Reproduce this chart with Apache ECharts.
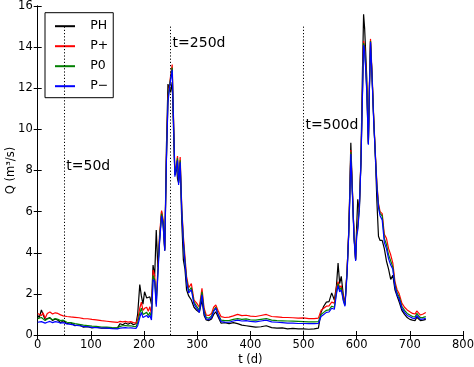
<!DOCTYPE html>
<html>
<head>
<meta charset="utf-8">
<script src="https://cdn.jsdelivr.net/npm/echarts@6/dist/echarts.min.js"></script>
<style>html,body{margin:0;padding:0;background:#fff}#c{width:474px;height:367px}</style>
</head>
<body>
<div id="c"></div>
<script>
const days = [
  0,3,7,10,14,18,23,28,33,38,43,48,55,62,70,78,86,94,102,110,120,130,140,150,155,160,165,170,175,180,185,
  188,192,195,198,201,205,208,211,214,217,220,223,226,229,233,236,239,242,245,247,250,253,256,258,261,263,265,268,271,274,277,
  280,284,289,294,299,304,309,313,317,322,327,331,335,339,345,352,360,368,376,384,392,400,410,420,430,440,450,460,470,480,490,500,510,520,528,
  533,538,543,548,553,558,562,565,568,571,575,578,582,585,587,589,592,595,598,600,602,605,608,611,613,615,617,619,622,624,626,629,632,635,638,641,644,648,652,656,660,664,668,672,676,680,685,690,695,700,705,710,713,716,720,725,730
];
const PH = [
  0.95,0.85,1.22,1.0,0.75,0.8,0.85,0.7,0.78,0.72,0.6,0.7,0.55,0.6,0.45,0.5,0.38,0.4,0.35,0.38,0.33,0.35,0.32,0.35,0.55,0.5,0.58,0.52,0.6,0.5,0.55,
  1.0,2.45,1.9,1.5,2.1,1.8,1.75,1.86,1.5,3.4,2.84,5.1,3.3,4.5,6.0,5.3,4.1,9.0,12.2,12.25,11.8,12.3,9.5,7.8,8.2,7.6,7.4,8.2,5.5,3.65,3.2,
  2.2,1.9,1.7,1.35,1.2,1.1,1.7,0.95,0.73,0.7,0.78,1.0,1.13,0.9,0.57,0.6,0.55,0.6,0.55,0.48,0.45,0.42,0.38,0.4,0.45,0.36,0.33,0.35,0.3,0.32,0.3,0.3,0.28,0.3,0.33,
  1.1,1.4,1.6,1.62,2.05,1.7,2.4,3.5,2.5,2.85,1.9,1.5,3.2,5.0,7.0,9.35,7.0,4.8,3.65,5.3,6.6,6.0,8.5,13.0,15.6,14.9,14.85,12.5,9.3,12.0,14.3,12.5,10.5,8.8,6.5,4.8,4.6,4.6,4.2,3.6,3.2,2.7,2.9,2.2,1.9,1.6,1.2,1.0,0.85,0.76,0.72,0.7,0.86,0.78,0.7,0.72,0.76
];
const Pplus = [
  1.05,1.0,0.95,1.08,0.82,1.05,1.12,1.02,1.08,1.05,0.98,0.93,0.9,0.88,0.86,0.84,0.8,0.79,0.76,0.74,0.7,0.67,0.64,0.61,0.66,0.64,0.66,0.63,0.65,0.6,0.58,
  0.75,1.3,1.6,1.2,1.3,1.35,1.15,1.38,1.0,3.16,2.9,1.7,3.2,4.8,6.05,5.6,4.2,8.5,11.5,12.0,12.6,13.15,10.0,7.9,8.3,8.7,7.5,8.65,6.2,4.8,3.8,
  2.85,2.3,2.5,1.7,1.55,1.35,2.27,1.3,0.97,0.95,1.05,1.35,1.46,1.2,0.89,0.85,0.87,0.93,1.0,0.94,0.96,0.92,0.9,0.95,1.0,0.9,0.88,0.86,0.85,0.84,0.82,0.83,0.8,0.8,0.82,
  1.2,1.3,1.4,1.42,1.6,1.55,2.3,2.6,2.3,2.4,1.8,1.5,3.2,5.0,6.8,9.0,7.0,4.9,3.7,5.0,5.3,6.3,8.5,12.0,14.3,14.0,13.1,12.0,9.4,12.2,14.4,12.7,10.6,8.9,7.4,6.4,6.0,5.9,4.9,4.7,4.2,3.9,3.5,2.6,2.2,2.0,1.55,1.35,1.22,1.13,1.05,1.02,1.17,1.1,0.97,1.02,1.09
];
const P0 = [
  0.8,0.78,0.85,0.78,0.7,0.78,0.82,0.74,0.8,0.76,0.7,0.72,0.62,0.6,0.55,0.52,0.48,0.46,0.43,0.42,0.39,0.38,0.36,0.35,0.42,0.45,0.46,0.44,0.45,0.42,0.4,
  0.6,1.05,1.3,1.0,1.05,1.1,0.95,1.1,0.85,2.9,2.7,1.5,3.0,4.6,5.9,5.5,4.15,8.4,11.4,11.9,12.5,13.0,9.9,7.8,8.2,8.6,7.4,8.5,6.1,4.6,3.6,
  2.7,2.15,2.3,1.6,1.4,1.2,2.1,1.15,0.85,0.82,0.92,1.2,1.35,1.05,0.72,0.7,0.7,0.76,0.8,0.76,0.78,0.74,0.72,0.76,0.8,0.72,0.7,0.69,0.68,0.67,0.66,0.65,0.64,0.64,0.65,
  1.0,1.1,1.2,1.22,1.4,1.35,2.1,2.5,2.2,2.3,1.7,1.45,3.1,4.9,6.7,8.9,6.9,4.8,3.65,4.9,5.2,6.2,8.4,11.9,14.2,13.9,13.0,11.9,9.3,12.1,14.3,12.6,10.5,8.8,7.3,6.3,5.9,5.8,4.7,4.4,3.9,3.6,3.3,2.45,2.05,1.85,1.4,1.2,1.05,0.97,0.9,0.88,1.05,0.95,0.84,0.86,0.89
];
const Pminus = [
  0.62,0.6,0.65,0.62,0.58,0.62,0.66,0.6,0.65,0.63,0.58,0.6,0.54,0.52,0.48,0.45,0.42,0.4,0.37,0.36,0.34,0.33,0.31,0.3,0.33,0.35,0.36,0.34,0.35,0.33,0.32,
  0.45,0.85,1.1,0.85,0.85,0.95,0.85,0.95,0.73,2.7,2.6,1.38,2.9,4.4,5.8,5.4,4.1,8.3,11.3,11.8,12.4,12.9,9.8,7.7,8.1,8.5,7.3,8.4,6.0,4.5,3.5,
  2.6,2.05,2.2,1.5,1.3,1.1,1.95,1.05,0.78,0.75,0.85,1.15,1.3,1.0,0.65,0.63,0.62,0.68,0.72,0.68,0.7,0.66,0.64,0.68,0.72,0.64,0.62,0.6,0.58,0.58,0.56,0.56,0.55,0.55,0.56,
  0.9,1.0,1.1,1.12,1.3,1.25,2.0,2.4,2.1,2.2,1.65,1.4,3.0,4.85,6.6,8.8,6.8,4.7,3.6,4.8,5.1,6.1,8.3,11.8,14.1,13.8,12.9,11.8,9.25,12.0,14.25,12.5,10.4,8.8,7.2,6.2,5.8,5.6,4.5,4.2,3.7,3.4,3.2,2.35,1.95,1.75,1.3,1.1,0.95,0.89,0.82,0.8,0.95,0.88,0.76,0.78,0.81
];
const seriesNames = ['PH', 'P+', 'P0', 'P\u2212'];
const seriesColors = ['#000000', '#ff0000', '#008000', '#0000ff'];
const markDays = [50, 250, 500];
const markText = ['t=50d', 't=250d', 't=500d'];
const markTextQ = [8.2, 14.2, 10.2];
const markTopQ = 15;

const FONT = 'DejaVu Sans';
const chart = echarts.init(document.getElementById('c'), null, {renderer: 'canvas'});
const valueSets = [PH, Pplus, P0, Pminus];
const series = valueSets.map((vals, k) => ({
  name: seriesNames[k],
  type: 'line',
  xAxisIndex: 0, yAxisIndex: 0,
  symbol: 'none',
  showSymbol: false,
  animation: false,
  lineStyle: {color: seriesColors[k], width: 1.2},
  itemStyle: {color: seriesColors[k]},
  data: days.map((d, i) => [d, vals[i]]),
  z: 2 + k
}));
series[0].markLine = {
  silent: true, symbol: 'none', animation: false,
  label: {show: false},
  lineStyle: {type: [1.2, 2], color: '#000', width: 1},
  data: markDays.map(d => [{coord: [d, 0]}, {coord: [d, markTopQ]}])
};
series[0].markPoint = {
  silent: true, animation: false, symbol: 'circle', symbolSize: 0,
  label: {show: true, position: 'right', distance: 2, formatter: '{b}', color: '#000', fontSize: 14, fontFamily: FONT},
  data: markDays.map((d, i) => ({name: markText[i], coord: [d, markTextQ[i]]}))
};
const axisCommon = {
  axisLine: {show: true, lineStyle: {color: '#000', width: 1}},
  axisTick: {show: true, inside: true, length: 4, lineStyle: {color: '#000'}},
  splitLine: {show: false}
};
chart.setOption({
  animation: false,
  textStyle: {fontFamily: FONT},
  grid: {left: 37.7, right: 11, top: 6, bottom: 32, containLabel: false, outerBoundsMode: 'none'},
  legend: {
    data: seriesNames, orient: 'vertical', left: 45, top: 12.7,
    backgroundColor: '#fff', borderColor: '#000', borderWidth: 1, borderRadius: 0,
    padding: [7, 5, 5, 9], itemWidth: 20, itemHeight: 14, itemGap: 7,
    itemStyle: {opacity: 0},
    formatter: n => '\u2002 ' + n,
    textStyle: {fontSize: 12.5, color: '#000', fontFamily: FONT}
  },
  xAxis: [
    Object.assign({type: 'value', position: 'bottom', min: 0, max: 800, interval: 100,
      axisLabel: {color: '#000', fontSize: 11.5, margin: 4, fontFamily: FONT},
      name: 't (d)', nameLocation: 'middle', nameGap: 19, nameMoveOverlap: false,
      nameTextStyle: {color: '#000', fontSize: 11.5, fontFamily: FONT}}, axisCommon),
    Object.assign({type: 'value', position: 'top', min: 0, max: 800, interval: 100,
      axisLabel: {show: false}}, axisCommon)
  ],
  yAxis: [
    Object.assign({type: 'value', position: 'left', min: 0, max: 16, interval: 2,
      axisLabel: {color: '#000', fontSize: 11.5, margin: 5, fontFamily: FONT},
      name: 'Q (m\u00b3/s)', nameLocation: 'middle', nameGap: 21, nameMoveOverlap: false,
      nameTextStyle: {color: '#000', fontSize: 11.5, fontFamily: FONT}}, axisCommon),
    Object.assign({type: 'value', position: 'right', min: 0, max: 16, interval: 2,
      axisLabel: {show: false}}, axisCommon)
  ],
  series: series
});
</script>
</body>
</html>
